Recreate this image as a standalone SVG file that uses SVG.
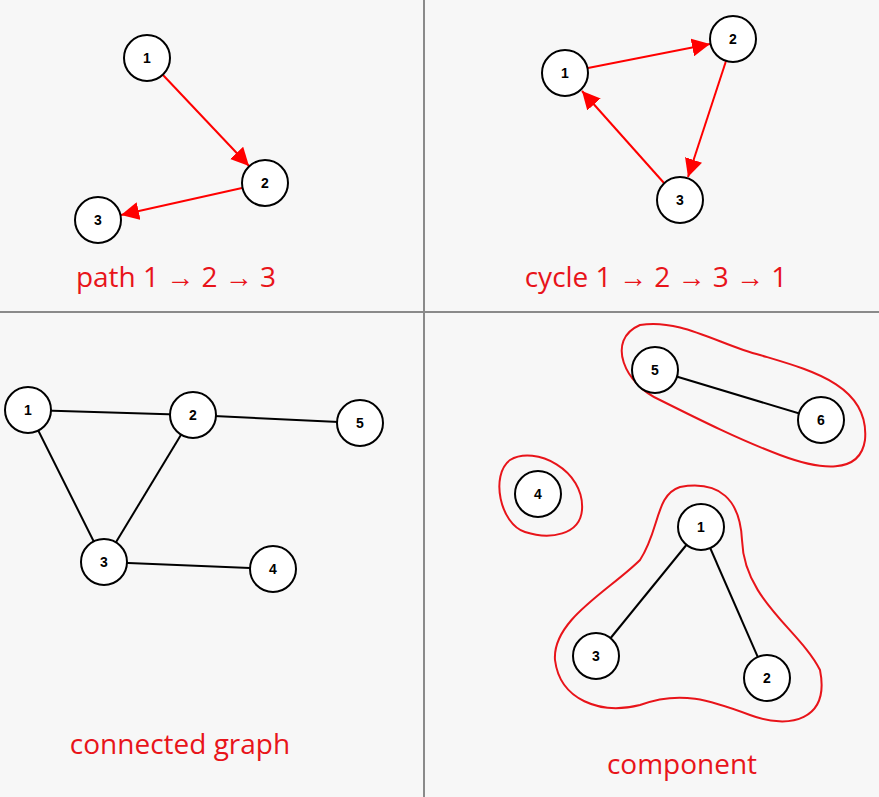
<svg xmlns="http://www.w3.org/2000/svg" width="879" height="797" viewBox="0 0 879 797">
<style>
.n circle{fill:#fff;stroke:#000;stroke-width:2}
.n text{font-family:"Liberation Sans",Arial,sans-serif;font-weight:bold;font-size:14px;text-anchor:middle;dominant-baseline:central}
.e{stroke:#000;stroke-width:2}
.lbl{font-family:"Open Sans","Liberation Sans",sans-serif;font-size:28px;fill:#e8141a;text-anchor:middle}
.blob{fill:none;stroke:#e8141a;stroke-width:2}
</style>
<defs>
<marker id="a2" viewBox="0 0 10 10" refX="10" refY="5" markerWidth="18" markerHeight="18" markerUnits="userSpaceOnUse" orient="auto"><path d="M0,0L10,5L0,10z" fill="#f00"/></marker></defs>
<rect width="879" height="797" fill="#f7f7f7"/>
<g id="dividers" stroke="#8a8a8a" stroke-width="2"><line x1="424" y1="0" x2="424" y2="797"/><line x1="0" y1="312" x2="879" y2="312"/></g>
<g id="connectors">
<g stroke="#f00" stroke-width="2" marker-end="url(#a2)">
<line x1="163" y1="75" x2="249" y2="166"/>
<line x1="242" y1="188" x2="121" y2="215"/>
<line x1="588" y1="68" x2="710" y2="44"/>
<line x1="726" y1="61" x2="688" y2="177"/>
<line x1="664" y1="183" x2="582" y2="91"/>
</g>
<line class="e" x1="28" y1="410" x2="193" y2="415"/>
<line class="e" x1="193" y1="415" x2="360" y2="423"/>
<line class="e" x1="28" y1="410" x2="104" y2="562"/>
<line class="e" x1="193" y1="415" x2="104" y2="562"/>
<line class="e" x1="104" y1="562" x2="273" y2="569"/>
<line class="e" x1="655" y1="370" x2="821" y2="420"/>
<line class="e" x1="701" y1="527" x2="596" y2="656"/>
<line class="e" x1="701" y1="527" x2="767" y2="678"/>
</g>
<g id="blobs">
<path class="blob" d="M640,325 C680,318 720,345 760,355 C810,370 870,385 865,440 C860,475 820,470 780,455 C740,440 700,420 660,400 C625,385 605,340 640,325Z"/>
<path class="blob" d="M510,460 C535,445 585,470 582,510 C580,535 550,540 525,532 C500,524 490,475 510,460Z"/>
<path class="blob" d="M680,487 C720,480 740,500 742,540 C744,600 800,630 820,670 C830,720 790,730 750,715 C710,700 680,690 640,705 C600,715 560,700 555,660 C552,620 610,590 640,560 C660,530 655,495 680,487Z"/>
</g>
<g id="n-tl1" class="n"><circle cx="147" cy="58" r="23"/><text x="147" y="58">1</text></g>
<g id="n-tl2" class="n"><circle cx="265" cy="183" r="23"/><text x="265" y="183">2</text></g>
<g id="n-tl3" class="n"><circle cx="98" cy="220" r="23"/><text x="98" y="220">3</text></g>
<g id="n-tr1" class="n"><circle cx="565" cy="73" r="23"/><text x="565" y="73">1</text></g>
<g id="n-tr2" class="n"><circle cx="733" cy="39" r="23"/><text x="733" y="39">2</text></g>
<g id="n-tr3" class="n"><circle cx="680" cy="200" r="23"/><text x="680" y="200">3</text></g>
<g id="n-bl1" class="n"><circle cx="28" cy="410" r="23"/><text x="28" y="410">1</text></g>
<g id="n-bl2" class="n"><circle cx="193" cy="415" r="23"/><text x="193" y="415">2</text></g>
<g id="n-bl5" class="n"><circle cx="360" cy="423" r="23"/><text x="360" y="423">5</text></g>
<g id="n-bl3" class="n"><circle cx="104" cy="562" r="23"/><text x="104" y="562">3</text></g>
<g id="n-bl4" class="n"><circle cx="273" cy="569" r="23"/><text x="273" y="569">4</text></g>
<g id="n-br5" class="n"><circle cx="655" cy="370" r="23"/><text x="655" y="370">5</text></g>
<g id="n-br6" class="n"><circle cx="821" cy="420" r="23"/><text x="821" y="420">6</text></g>
<g id="n-br4" class="n"><circle cx="538" cy="494" r="23"/><text x="538" y="494">4</text></g>
<g id="n-br1" class="n"><circle cx="701" cy="527" r="23"/><text x="701" y="527">1</text></g>
<g id="n-br3" class="n"><circle cx="596" cy="656" r="23"/><text x="596" y="656">3</text></g>
<g id="n-br2" class="n"><circle cx="767" cy="678" r="23"/><text x="767" y="678">2</text></g>
<g id="labels">
<text class="lbl" x="176" y="287">path 1 → 2 → 3</text>
<text class="lbl" x="656" y="287">cycle 1 → 2 → 3 → 1</text>
<text class="lbl" x="180" y="754">connected graph</text>
<text class="lbl" x="682" y="774">component</text>
</g>
</svg>
